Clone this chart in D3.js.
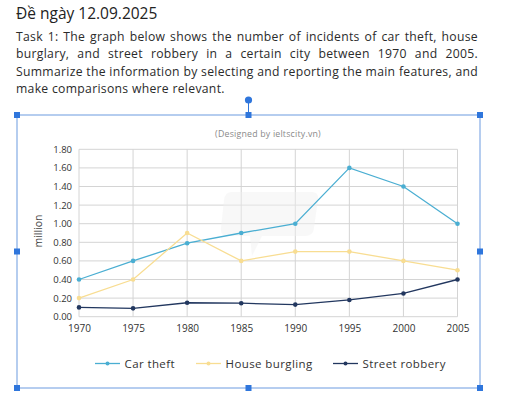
<!DOCTYPE html>
<html>
<head>
<meta charset="utf-8">
<script src="https://cdn.jsdelivr.net/npm/d3@7"></script>
<style>
  body { margin: 0; background: #fff; }
  svg { display: block; font-family: "Open Sans", sans-serif; }
</style>
</head>
<body>
<svg id="chart" width="512" height="396" viewBox="0 0 512 396"></svg>
<script>
// data
const years = [1970, 1975, 1980, 1985, 1990, 1995, 2000, 2005];
const carTheft = [0.40, 0.60, 0.79, 0.90, 1.00, 1.60, 1.40, 1.00];
const houseBurgling = [0.20, 0.40, 0.90, 0.60, 0.70, 0.70, 0.60, 0.50];
const streetRobbery = [0.10, 0.09, 0.15, 0.145, 0.13, 0.18, 0.25, 0.40];
const yTicks = [0, 0.2, 0.4, 0.6, 0.8, 1.0, 1.2, 1.4, 1.6, 1.8];

const seriesNames = ["Car theft", "House burgling", "Street robbery"];
const seriesColors = ["#4aaed2", "#f8dd92", "#22375f"];

const titleText = "Đề ngày 12.09.2025";
const taskLines = [
  "Task 1: The graph below shows the number of incidents of car theft, house",
  "burglary, and street robbery in a certain city between 1970 and 2005.",
  "Summarize the information by selecting and reporting the main features, and",
  "make comparisons where relevant."
];

const svg = d3.select("#chart");

// heading
svg.append("text")
  .attr("x", 16).attr("y", 19)
  .attr("font-size", 15.5).attr("fill", "#222")
  .text(titleText);

// task paragraph, justified except last line
const lineRight = 478;
taskLines.forEach((line, i) => {
  const t = svg.append("text")
    .attr("x", 16).attr("y", 40.7 + i * 17.5)
    .attr("font-size", 12.2).attr("fill", "#2b2b2b")
    .attr("letter-spacing", 0.3)
    .text(line);
  if (i < taskLines.length - 1) {
    const w = t.node().getComputedTextLength();
    const gaps = line.split(" ").length - 1;
    t.attr("word-spacing", (lineRight - 16 - w) / gaps);
  }
});

// selection frame
const box = { x0: 17, y0: 115, x1: 480, y1: 388 };
const selBlue = "#2f76dc";
svg.append("rect")
  .attr("x", box.x0).attr("y", box.y0)
  .attr("width", box.x1 - box.x0).attr("height", box.y1 - box.y0)
  .attr("fill", "none").attr("stroke", "#6d9be0").attr("stroke-width", 1);
const mx = (box.x0 + box.x1) / 2, my = (box.y0 + box.y1) / 2;
svg.append("line")
  .attr("x1", mx).attr("x2", mx).attr("y1", 100).attr("y2", box.y0)
  .attr("stroke", selBlue).attr("stroke-width", 1);
svg.append("circle").attr("cx", mx).attr("cy", 100).attr("r", 3.6).attr("fill", selBlue);
[[box.x0, box.y0], [mx, box.y0], [box.x1, box.y0],
 [box.x0, my], [box.x1, my],
 [box.x0, box.y1], [mx, box.y1], [box.x1, box.y1]].forEach(([hx, hy]) => {
  svg.append("rect")
    .attr("x", hx - 3).attr("y", hy - 3).attr("width", 6).attr("height", 6)
    .attr("fill", selBlue);
});

// chart area
const plot = { left: 79, right: 457.5, top: 149.3, bottom: 316.7 };
const x = d3.scalePoint().domain(years).range([plot.left, plot.right]);
const y = d3.scaleLinear().domain([0, 1.8]).range([plot.bottom, plot.top]);

svg.append("text")
  .attr("x", 268).attr("y", 137)
  .attr("text-anchor", "middle")
  .attr("font-size", 8.8).attr("fill", "#8a8a8a")
  .attr("letter-spacing", 0.2)
  .text("(Designed by ieltscity.vn)");

const grid = svg.append("g");
grid.selectAll("line.h")
  .data(yTicks)
  .enter()
  .append("line")
  .attr("x1", plot.left).attr("x2", plot.right)
  .attr("y1", d => y(d)).attr("y2", d => y(d))
  .attr("stroke", "#d4d4d4").attr("stroke-width", 1);
grid.selectAll("line.v")
  .data(years)
  .enter()
  .append("line")
  .attr("x1", d => x(d)).attr("x2", d => x(d))
  .attr("y1", plot.top).attr("y2", plot.bottom)
  .attr("stroke", "#d4d4d4").attr("stroke-width", 1);

// faint watermark bubble
svg.append("path")
  .attr("d", "M232,192 L312,192 Q319,192 318,200 L314,228 Q313,236 305,236 L262,236 L252,256 L250,236 L228,236 Q220,236 221,228 L224,200 Q225,192 232,192 Z")
  .attr("fill", "#f0f0f0").attr("opacity", 0.45);

const yAxis = svg.append("g")
  .attr("transform", `translate(${plot.left - 7},0)`)
  .call(d3.axisLeft(y).tickValues(yTicks).tickSize(0).tickPadding(0).tickFormat(d3.format(".2f")));
yAxis.select(".domain").remove();
yAxis.selectAll("text")
  .attr("font-family", "Open Sans, sans-serif")
  .attr("font-size", 9.5).attr("fill", "#333");

const xAxis = svg.append("g")
  .attr("transform", `translate(0,${plot.bottom + 8})`)
  .call(d3.axisBottom(x).tickSize(0).tickPadding(0).tickFormat(d3.format("d")));
xAxis.select(".domain").remove();
xAxis.selectAll("text")
  .attr("font-family", "Open Sans, sans-serif")
  .attr("font-size", 10).attr("fill", "#333");

svg.append("text")
  .attr("transform", "translate(42,231) rotate(-90)")
  .attr("text-anchor", "middle")
  .attr("font-size", 10.5).attr("fill", "#444")
  .text("million");

// series
const allSeries = [carTheft, houseBurgling, streetRobbery];
const lineGen = d3.line().x((d, i) => x(years[i])).y(d => y(d));
allSeries.forEach((vals, s) => {
  svg.append("path")
    .datum(vals)
    .attr("d", lineGen)
    .attr("fill", "none")
    .attr("stroke", seriesColors[s])
    .attr("stroke-width", 1.3);
  svg.append("g")
    .selectAll("circle")
    .data(vals)
    .enter()
    .append("circle")
    .attr("cx", (d, i) => x(years[i]))
    .attr("cy", d => y(d))
    .attr("r", 2.3)
    .attr("fill", seriesColors[s]);
});

// legend
const legendX = [95, 196, 333];
const legendY = 363.5;
const legend = svg.append("g")
  .selectAll("g")
  .data(seriesNames)
  .enter()
  .append("g")
  .attr("transform", (d, i) => `translate(${legendX[i]},${legendY})`);
legend.append("line")
  .attr("x1", 0).attr("x2", 25).attr("y1", 0).attr("y2", 0)
  .attr("stroke", (d, i) => seriesColors[i]).attr("stroke-width", 1.3);
legend.append("circle")
  .attr("cx", 12.5).attr("cy", 0).attr("r", 2)
  .attr("fill", (d, i) => seriesColors[i]);
legend.append("text")
  .attr("x", 29.5).attr("y", 4)
  .attr("font-size", 11.5).attr("fill", "#333")
  .attr("letter-spacing", 0.4)
  .text(d => d);
</script>
</body>
</html>
